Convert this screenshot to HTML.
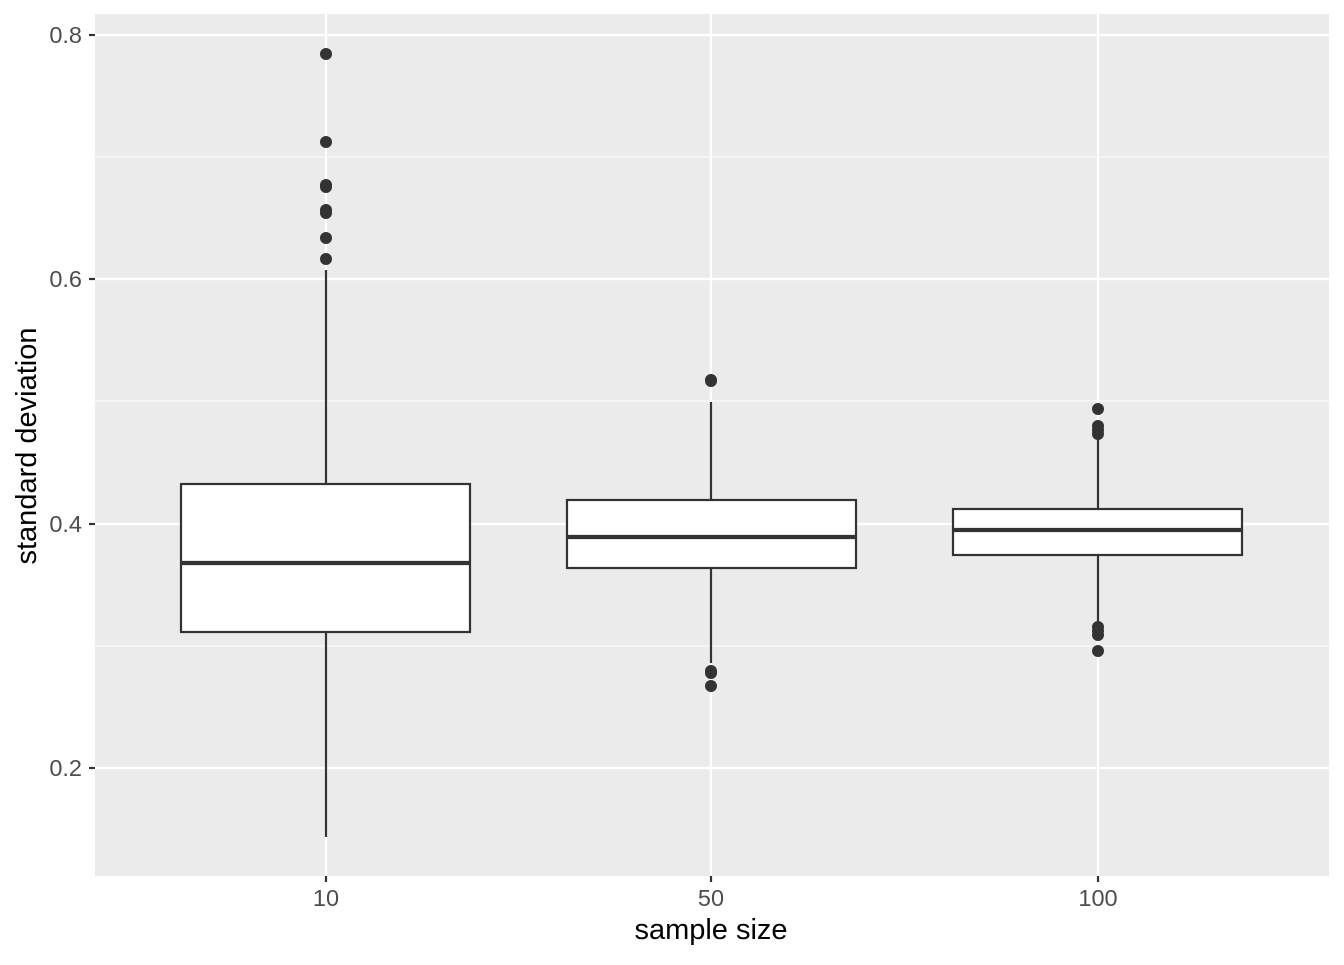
<!DOCTYPE html>
<html><head><style>body{margin:0;background:#fff}</style></head><body>
<svg width="1344" height="960" xmlns="http://www.w3.org/2000/svg" font-family="Liberation Sans, sans-serif">
<rect x="95" y="14" width="1234" height="862" fill="#ebebeb"/>
<g stroke="#fff" stroke-width="1.1">
<line x1="95" x2="1329" y1="157" y2="157"/><line x1="95" x2="1329" y1="401" y2="401"/><line x1="95" x2="1329" y1="646" y2="646"/>
</g>
<g stroke="#fff" stroke-width="2.2">
<line x1="95" x2="1329" y1="35" y2="35"/><line x1="95" x2="1329" y1="279" y2="279"/><line x1="95" x2="1329" y1="524" y2="524"/><line x1="95" x2="1329" y1="768" y2="768"/>
<line x1="326" x2="326" y1="14" y2="876"/><line x1="711" x2="711" y1="14" y2="876"/><line x1="1098" x2="1098" y1="14" y2="876"/>
</g>
<g stroke="#333" stroke-width="2.2" fill="#fff">
<line x1="326" x2="326" y1="270" y2="837"/>
<rect x="181" y="484" width="289" height="148"/>
<line x1="181" x2="470" y1="563" y2="563" stroke-width="4.3"/>
<line x1="711" x2="711" y1="402" y2="663"/>
<rect x="567" y="500" width="289" height="68"/>
<line x1="567" x2="856" y1="537" y2="537" stroke-width="4.3"/>
<line x1="1098" x2="1098" y1="438" y2="622"/>
<rect x="953" y="509" width="289" height="46"/>
<line x1="953" x2="1242" y1="530" y2="530" stroke-width="4.3"/>
</g>
<g fill="#333">
<circle cx="326" cy="54" r="6"/><circle cx="326" cy="142" r="6"/><circle cx="326" cy="185" r="6"/><circle cx="326" cy="187" r="6"/><circle cx="326" cy="210" r="6"/><circle cx="326" cy="213" r="6"/><circle cx="326" cy="238" r="6"/><circle cx="326" cy="259" r="6"/>
<circle cx="711" cy="380" r="6"/><circle cx="711" cy="381" r="6"/><circle cx="711" cy="671" r="6"/><circle cx="711" cy="673" r="6"/><circle cx="711" cy="686" r="6"/>
<circle cx="1098" cy="409" r="6"/><circle cx="1098" cy="426" r="6"/><circle cx="1098" cy="430" r="6"/><circle cx="1098" cy="434" r="6"/><circle cx="1098" cy="627" r="6"/><circle cx="1098" cy="631" r="6"/><circle cx="1098" cy="635" r="6"/><circle cx="1098" cy="651" r="6"/>
</g>
<g stroke="#333" stroke-width="2.2">
<line x1="89" x2="95" y1="35" y2="35"/><line x1="89" x2="95" y1="279" y2="279"/><line x1="89" x2="95" y1="524" y2="524"/><line x1="89" x2="95" y1="768" y2="768"/>
<line x1="326" x2="326" y1="876" y2="882"/><line x1="711" x2="711" y1="876" y2="882"/><line x1="1098" x2="1098" y1="876" y2="882"/>
</g>
<g fill="#4d4d4d" font-size="23.5" text-anchor="end">
<text x="82" y="43">0.8</text><text x="82" y="287">0.6</text><text x="82" y="532">0.4</text><text x="82" y="776">0.2</text>
</g>
<g fill="#4d4d4d" font-size="23.5" text-anchor="middle">
<text x="326" y="906">10</text><text x="711" y="906">50</text><text x="1098" y="906">100</text>
</g>
<text x="711" y="939" font-size="29" text-anchor="middle">sample size</text>
<text transform="translate(36,446) rotate(-90)" font-size="29" text-anchor="middle">standard deviation</text>
</svg>
</body></html>
